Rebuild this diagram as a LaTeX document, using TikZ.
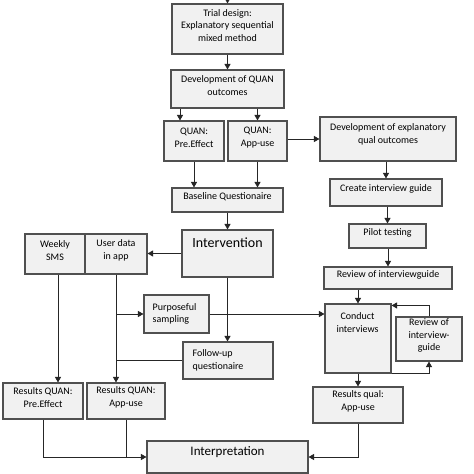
\documentclass[tikz,border=0pt]{standalone}
\usepackage{fontspec}
\setmainfont{Carlito}
\usetikzlibrary{arrows.meta,fit,calc}
\definecolor{boxfill}{HTML}{F1F1F1}
\definecolor{boxline}{HTML}{505050}
\definecolor{wire}{HTML}{262626}
\begin{document}
\begin{tikzpicture}[x=1pt,y=-1pt,
  box/.style={draw=boxline,fill=boxfill,line width=1.1pt,inner sep=0pt,
    align=center,font=\fontsize{10}{12.5}\selectfont},
  txt/.style={inner sep=0pt,font=\fontsize{10}{12.5}\selectfont},
  arr/.style={draw=wire,line width=0.9pt,-{Triangle[length=5.5pt,width=6pt]}},
  wireline/.style={draw=wire,line width=0.9pt}]
\useasboundingbox[fill=white] (0,0) rectangle (474,474);

% ---- central quantitative column ----
\node[box,fit={(172,4)(283,54)}] (trial) {Trial design:\\Explanatory sequential\\mixed method};
\node[box,fit={(171,70)(284,108)}] (devq) {Development of QUAN\\outcomes};
\node[box,fit={(164,121)(224,161)}] (qpre) {QUAN:\\Pre.Effect};
\node[box,fit={(228,121)(287,161)}] (qapp) {QUAN:\\App-use};
\node[box,fit={(172,188)(283,212)}] (base) {Baseline Questionaire};
\node[box,fit={(182,230)(273,277)}] (interv) {};
\node[txt,font=\fontsize{14}{16}\selectfont] (tinterv) at (227.5,243) {Intervention};

% ---- left data sources ----
\node[box,fit={(25,234)(85,274)}] (sms) {Weekly\\SMS};
\node[box,fit={(85,234)(147,274)}] (user) {User data\\in app};
\node[box,fit={(144,295)(209,333)}] (purp) {};
\node[txt,anchor=west,align=left] (tpurp) at ([xshift=9pt]purp.west) {Purposeful\\sampling};
\node[box,fit={(183,342)(273,379)}] (follow) {};
\node[txt,anchor=west,align=left] (tfollow) at ([xshift=10pt]follow.west) {Follow-up\\questionaire};

% ---- qualitative column ----
\node[box,fit={(320,117)(456,161)}] (devqual) {};
\node[txt,align=center] (tdevqual) at (388,134.5) {Development of explanatory\\qual outcomes};
\node[box,fit={(330,179)(442,206)}] (create) {Create interview guide};
\node[box,fit={(349,224)(426,248)}] (pilot) {Pilot testing};
\node[box,fit={(324,267)(452,289)}] (review) {Review of interviewguide};
\node[box,fit={(325,304)(391,373)}] (conduct) {};
\node[txt,align=center] (tconduct) at (357.5,322.5) {Conduct\\interviews};
\node[box,fit={(396,317)(462,361)}] (revg) {Review of\\interview-\\guide};

% ---- results ----
\node[box,fit={(3,383)(83,419)}] (rpre) {Results QUAN:\\Pre.Effect};
\node[box,fit={(87,383)(165,419)}] (rapp) {Results QUAN:\\App-use};
\node[box,fit={(313,387)(403,423)}] (rqual) {Results qual:\\App-use};
\node[box,fit={(147,441)(308,473)},font=\fontsize{13}{15}\selectfont] (interp) {Interpretation};

% ---- connectors ----
\coordinate (entry) at (227.5,0);
\draw[arr] (entry) -- (trial.north);
\draw[arr] (trial.south) -- (devq.north);
\draw[arr] ([xshift=-14pt]qpre.north |- devq.south) -- ([xshift=-14pt]qpre.north);
\draw[arr] (qapp.north |- devq.south) -- (qapp.north);
\draw[arr] (qpre.south) -- (qpre.south |- base.north);
\draw[arr] (qapp.south) -- (qapp.south |- base.north);
\draw[arr] ([yshift=2pt]qapp.east) -- ([yshift=2pt]qapp.east -| devqual.west);
\draw[arr] (base.south) -- (interv.north);
\draw[arr] (interv.west) -- (interv.west -| user.east);

\draw[arr] (devqual.south -| create.north) -- (create.north);
\draw[arr] (create.south -| pilot.north) -- (pilot.north);
\draw[arr] (pilot.south -| review.north) -- (review.north);
\draw[arr] (conduct.north |- review.south) -- (conduct.north);
\draw[arr] (revg.north) |- ($(conduct.north east)+(0,2)$);
\draw[arr] (conduct.south east) -| (revg.south);
\draw[arr] (conduct.south) -- (rqual.north);

\draw[arr] (user.south) -- (user.south |- rapp.north);
\draw[arr] (user.south |- purp.west) -- (purp.west);
\draw[wireline] (follow.west) -- (follow.west -| user.south);
\draw[arr] (purp.east) -- (purp.east -| conduct.west);
\draw[arr] (interv.south) -- (interv.south |- follow.north);
\draw[arr] ([xshift=3pt]sms.south) -- ([xshift=3pt]sms.south |- rpre.north);

\draw[arr] (rpre.south) |- (interp.west);
\draw[wireline] (rapp.south) -- (rapp.south |- interp.west);
\draw[arr] (rqual.south) |- (interp.east);
\end{tikzpicture}
\end{document}
